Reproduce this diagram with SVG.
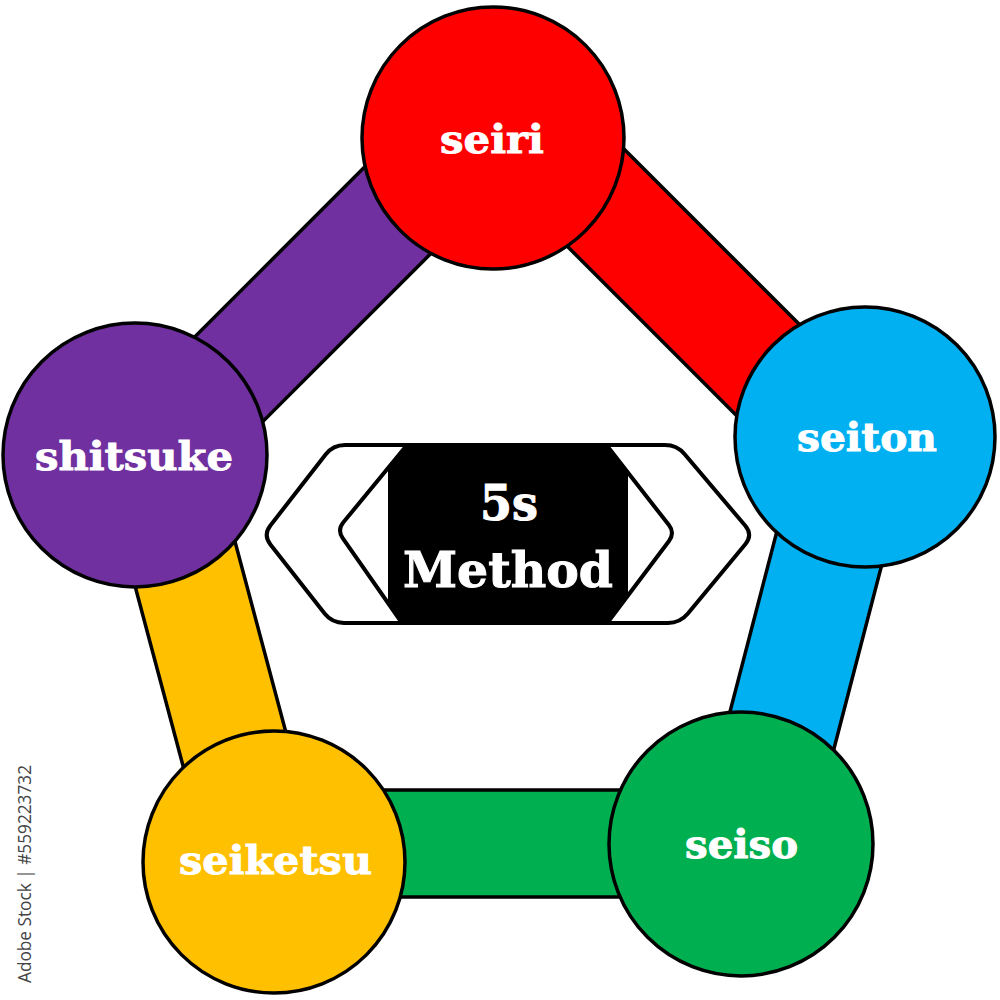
<svg xmlns="http://www.w3.org/2000/svg" width="1000" height="1000" viewBox="0 0 1000 1000">
  <style>
    .bar { stroke: #000; stroke-width: 3.5; stroke-linejoin: round; }
    .node { stroke: #000; stroke-width: 3.5; }
    .label { fill: #fff; stroke: #fff; stroke-width: 0.9; font-family: "DejaVu Serif", "Liberation Serif", serif; font-weight: bold; font-size: 40px; text-anchor: middle; }
    .title { fill: #fff; stroke: #fff; stroke-width: 1; font-family: "DejaVu Serif", "Liberation Serif", serif; font-weight: bold; font-size: 48px; text-anchor: middle; }
    .frame { fill: #fff; stroke: #000; stroke-width: 4; stroke-linejoin: round; }
    .wm { fill: #444; font-family: "Open Sans", "DejaVu Sans", sans-serif; font-size: 19px; }
  </style>
  <rect x="0" y="0" width="1000" height="1000" fill="#fff"/>

  <g id="connectors">
    <polygon class="bar" fill="#7030A0" points="105.8,425.8 443.3,88.3 519.7,164.7 182.2,502.2"/>
    <polygon class="bar" fill="#FF0000" points="553,78 888.5,413.5 811.5,490.5 476,155"/>
    <polygon class="bar" fill="#00B0F0" points="911.4,450.8 805.6,857.8 699.2,830.2 805,423.2"/>
    <polygon class="bar" fill="#00B050" points="274,790 741,790 741,897 274,897"/>
    <polygon class="bar" fill="#FFC000" points="208.2,441.1 316.8,848.1 212.4,875.9 103.8,468.9"/>
  </g>

  <g id="seiri">
    <circle class="node" cx="493" cy="138" r="131" fill="#FF0000"/>
    <text class="label" x="492" y="153" textLength="104" lengthAdjust="spacingAndGlyphs">seiri</text>
  </g>
  <g id="seiton">
    <circle class="node" cx="865" cy="437" r="130" fill="#00B0F0"/>
    <text class="label" x="867" y="451" textLength="140" lengthAdjust="spacingAndGlyphs">seiton</text>
  </g>
  <g id="seiso">
    <circle class="node" cx="741" cy="844" r="132" fill="#00B050"/>
    <text class="label" x="741.5" y="858" textLength="113" lengthAdjust="spacingAndGlyphs">seiso</text>
  </g>
  <g id="seiketsu">
    <circle class="node" cx="274" cy="862" r="131" fill="#FFC000"/>
    <text class="label" x="275.5" y="874" textLength="193" lengthAdjust="spacingAndGlyphs">seiketsu</text>
  </g>
  <g id="shitsuke">
    <circle class="node" cx="135" cy="455" r="132" fill="#7030A0"/>
    <text class="label" x="134" y="470" textLength="198" lengthAdjust="spacingAndGlyphs">shitsuke</text>
  </g>

  <g id="center">
    <path class="frame" d="M270.4,525.5 L325.6,454.5 Q333,445 345,445 L665,445 Q677,445 684.7,454.2 L745.3,525.8 Q753,535 745.3,544.2 L687.7,613.8 Q680,623 668,623 L344,623 Q332,623 324.6,613.6 L270.4,544.4 Q263,535 270.4,525.5 Z"/>
    <path class="frame" d="M407,445 L608,447 L668.9,525.1 Q675,533 669,541 L608,622 L402,623 L342.7,538.2 Q337,530 343.4,522.3 Z"/>
    <polygon fill="#000" points="407,447 608,447 628,473 628,596 608,622 402,623 388,603 388,468"/>
    <text class="title" x="509" y="520" textLength="58" lengthAdjust="spacingAndGlyphs">5s</text>
    <text class="title" x="508" y="587" textLength="210" lengthAdjust="spacingAndGlyphs">Method</text>
  </g>

  <text class="wm" transform="translate(31,983) rotate(-90)" textLength="218" lengthAdjust="spacingAndGlyphs">Adobe Stock | #559223732</text>
</svg>
